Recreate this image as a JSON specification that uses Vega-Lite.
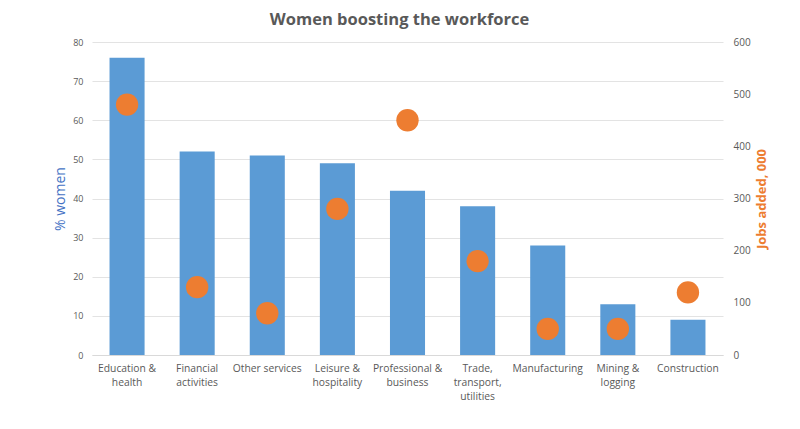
{
  "$schema": "https://vega.github.io/schema/vega-lite/v6.json",
  "width": 631,
  "height": 313,
  "autosize": {"type": "none"},
  "padding": {"left": 92, "top": 42, "right": 77, "bottom": 74},
  "background": "white",
  "title": {
    "text": "Women boosting the workforce",
    "fontSize": 16.5,
    "font": "Open Sans",
    "fontWeight": "bold",
    "color": "#595959",
    "offset": 9,
    "dx": -8
  },
  "data": {
    "values": [
      {"sector": "Education & health", "women": 76, "jobs": 480},
      {"sector": "Financial activities", "women": 52, "jobs": 130},
      {"sector": "Other services", "women": 51, "jobs": 80},
      {"sector": "Leisure & hospitality", "women": 49, "jobs": 280},
      {"sector": "Professional & business", "women": 42, "jobs": 450},
      {"sector": "Trade, transport, utilities", "women": 38, "jobs": 180},
      {"sector": "Manufacturing", "women": 28, "jobs": 50},
      {"sector": "Mining & logging", "women": 13, "jobs": 50},
      {"sector": "Construction", "women": 9, "jobs": 120}
    ]
  },
  "encoding": {
    "x": {
      "field": "sector",
      "type": "nominal",
      "sort": null,
      "scale": {"paddingInner": 0.5, "paddingOuter": 0.25},
      "axis": {
        "title": null,
        "labelAngle": 0,
        "ticks": false,
        "domainColor": "#d9d9d9",
        "labelPadding": 8,
        "labelFontSize": 10.3,
        "labelLineHeight": 14,
        "labelExpr": "datum.value == 'Education & health' ? ['Education &', 'health'] : datum.value == 'Financial activities' ? ['Financial', 'activities'] : datum.value == 'Leisure & hospitality' ? ['Leisure &', 'hospitality'] : datum.value == 'Professional & business' ? ['Professional &', 'business'] : datum.value == 'Trade, transport, utilities' ? ['Trade,', 'transport,', 'utilities'] : datum.value == 'Mining & logging' ? ['Mining &', 'logging'] : datum.value"
      }
    }
  },
  "layer": [
    {
      "mark": {"type": "bar", "color": "#5b9bd5"},
      "encoding": {
        "y": {
          "field": "women",
          "type": "quantitative",
          "scale": {"domain": [0, 80]},
          "axis": {
            "title": "% women",
            "titleColor": "#4472c4",
            "titleFontSize": 14,
            "titleFontWeight": "normal",
            "titlePadding": 5,
            "values": [0, 10, 20, 30, 40, 50, 60, 70, 80],
            "labelOverlap": false,
            "domain": false,
            "ticks": false,
            "labelFontSize": 9,
            "labelPadding": 9,
            "gridColor": "#e3e3e3"
          }
        }
      }
    },
    {
      "mark": {"type": "circle", "color": "#ed7d31", "opacity": 1, "size": 500},
      "encoding": {
        "y": {
          "field": "jobs",
          "type": "quantitative",
          "scale": {"domain": [0, 600]},
          "axis": {
            "orient": "right",
            "title": "Jobs added, 000",
            "titleAngle": 270,
            "titleColor": "#ed7d31",
            "titleFontSize": 13,
            "titleFontWeight": "bold",
            "titlePadding": 18,
            "values": [0, 100, 200, 300, 400, 500, 600],
            "labelOverlap": false,
            "domain": false,
            "ticks": false,
            "grid": false,
            "labelFontSize": 10,
            "labelPadding": 10
          }
        }
      }
    }
  ],
  "resolve": {"scale": {"y": "independent"}},
  "config": {
    "font": "Open Sans",
    "view": {"stroke": null},
    "axis": {
      "labelColor": "#595959",
      "labelFont": "Open Sans",
      "titleFont": "Open Sans"
    }
  }
}
